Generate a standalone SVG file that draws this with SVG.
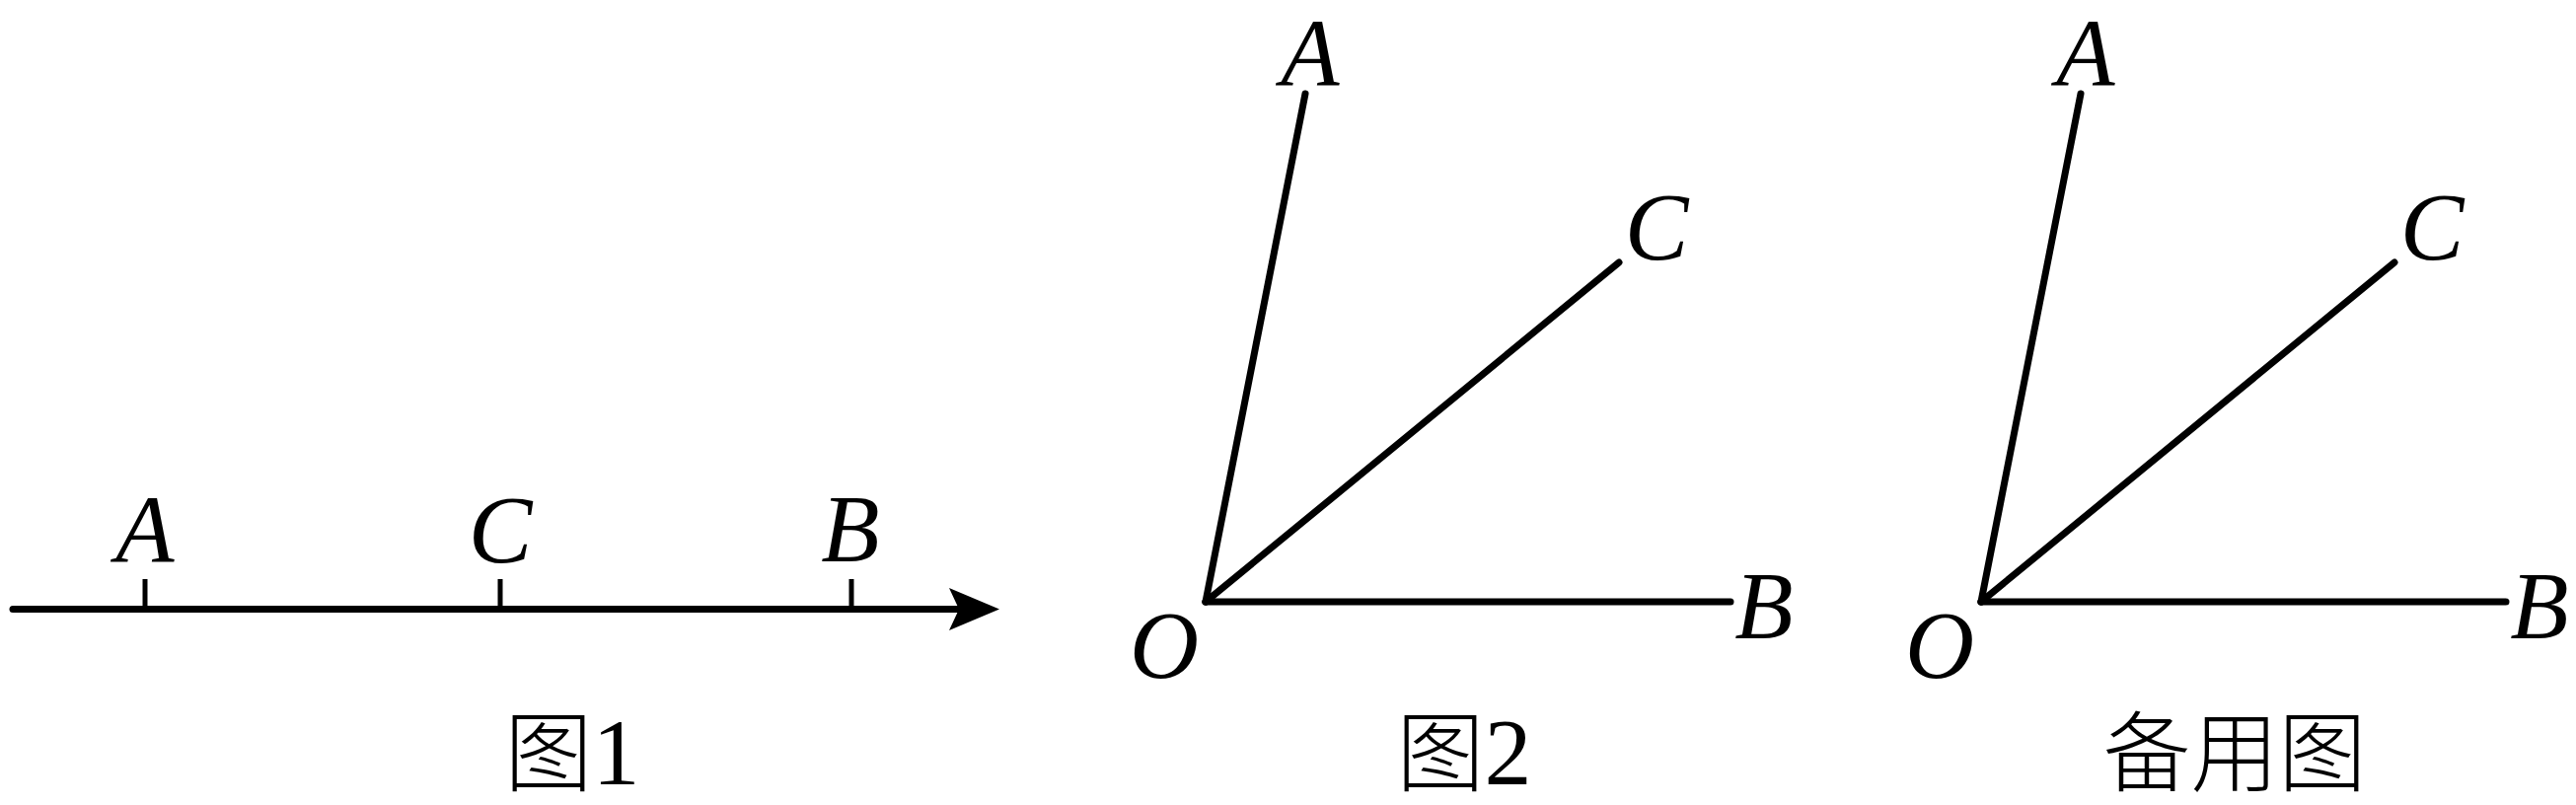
<svg xmlns="http://www.w3.org/2000/svg" width="2611" height="816" viewBox="0 0 2611 816">
<style>
.ln{stroke:#000;stroke-width:7;stroke-linecap:round;fill:none}
.tk{stroke:#000;stroke-width:5;fill:none}
.lb{font-family:"Liberation Serif","Times New Roman",serif;font-style:italic;font-size:97px;fill:#000;text-anchor:middle}
.cap{font-family:"Liberation Serif","Noto Sans CJK SC",serif;font-size:96px;fill:#000;text-anchor:middle}
.cjk{font-family:"Noto Sans CJK SC","Noto Sans CJK JP",sans-serif;font-size:89px;font-weight:300}
</style>
<rect width="2611" height="816" fill="#fff"/>
<g id="figure1">
  <g id="axis">
    <line class="ln" x1="13" y1="617.5" x2="975" y2="617.5"/>
    <polygon points="1013,617.5 962,596 972,617.5 962,639" fill="#000"/>
  </g>
  <g id="point-A1"><line class="tk" x1="147" y1="587" x2="147" y2="617"/><text class="lb" x="147" y="569">A</text></g>
  <g id="point-C1"><line class="tk" x1="507" y1="587" x2="507" y2="617"/><text class="lb" x="507" y="570">C</text></g>
  <g id="point-B1"><line class="tk" x1="863" y1="587" x2="863" y2="617"/><text class="lb" x="862" y="569">B</text></g>
  <text id="caption1" class="cap" x="580" y="795"><tspan class="cjk">图</tspan>1</text>
</g>
<g id="figure2">
  <g id="rays2">
    <line class="ln" x1="1222" y1="610" x2="1323" y2="95"/>
    <line class="ln" x1="1222" y1="610" x2="1641" y2="266"/>
    <line class="ln" x1="1222" y1="610" x2="1754" y2="610"/>
  </g>
  <g id="label-A2"><text class="lb" x="1328" y="86">A</text></g>
  <g id="label-C2"><text class="lb" x="1679" y="263">C</text></g>
  <g id="label-B2"><text class="lb" x="1788" y="647">B</text></g>
  <g id="label-O2"><text class="lb" x="1180" y="687">O</text></g>
  <text id="caption2" class="cap" x="1484" y="795"><tspan class="cjk">图</tspan>2</text>
</g>
<g id="figure3">
  <g id="rays3">
    <line class="ln" x1="2008" y1="610" x2="2109" y2="95"/>
    <line class="ln" x1="2008" y1="610" x2="2427" y2="266"/>
    <line class="ln" x1="2008" y1="610" x2="2540" y2="610"/>
  </g>
  <g id="label-A3"><text class="lb" x="2114" y="86">A</text></g>
  <g id="label-C3"><text class="lb" x="2465" y="263">C</text></g>
  <g id="label-B3"><text class="lb" x="2574" y="647">B</text></g>
  <g id="label-O3"><text class="lb" x="1966" y="687">O</text></g>
  <text id="caption3" class="cap" x="2265" y="795"><tspan class="cjk">备用图</tspan></text>
</g>
</svg>
